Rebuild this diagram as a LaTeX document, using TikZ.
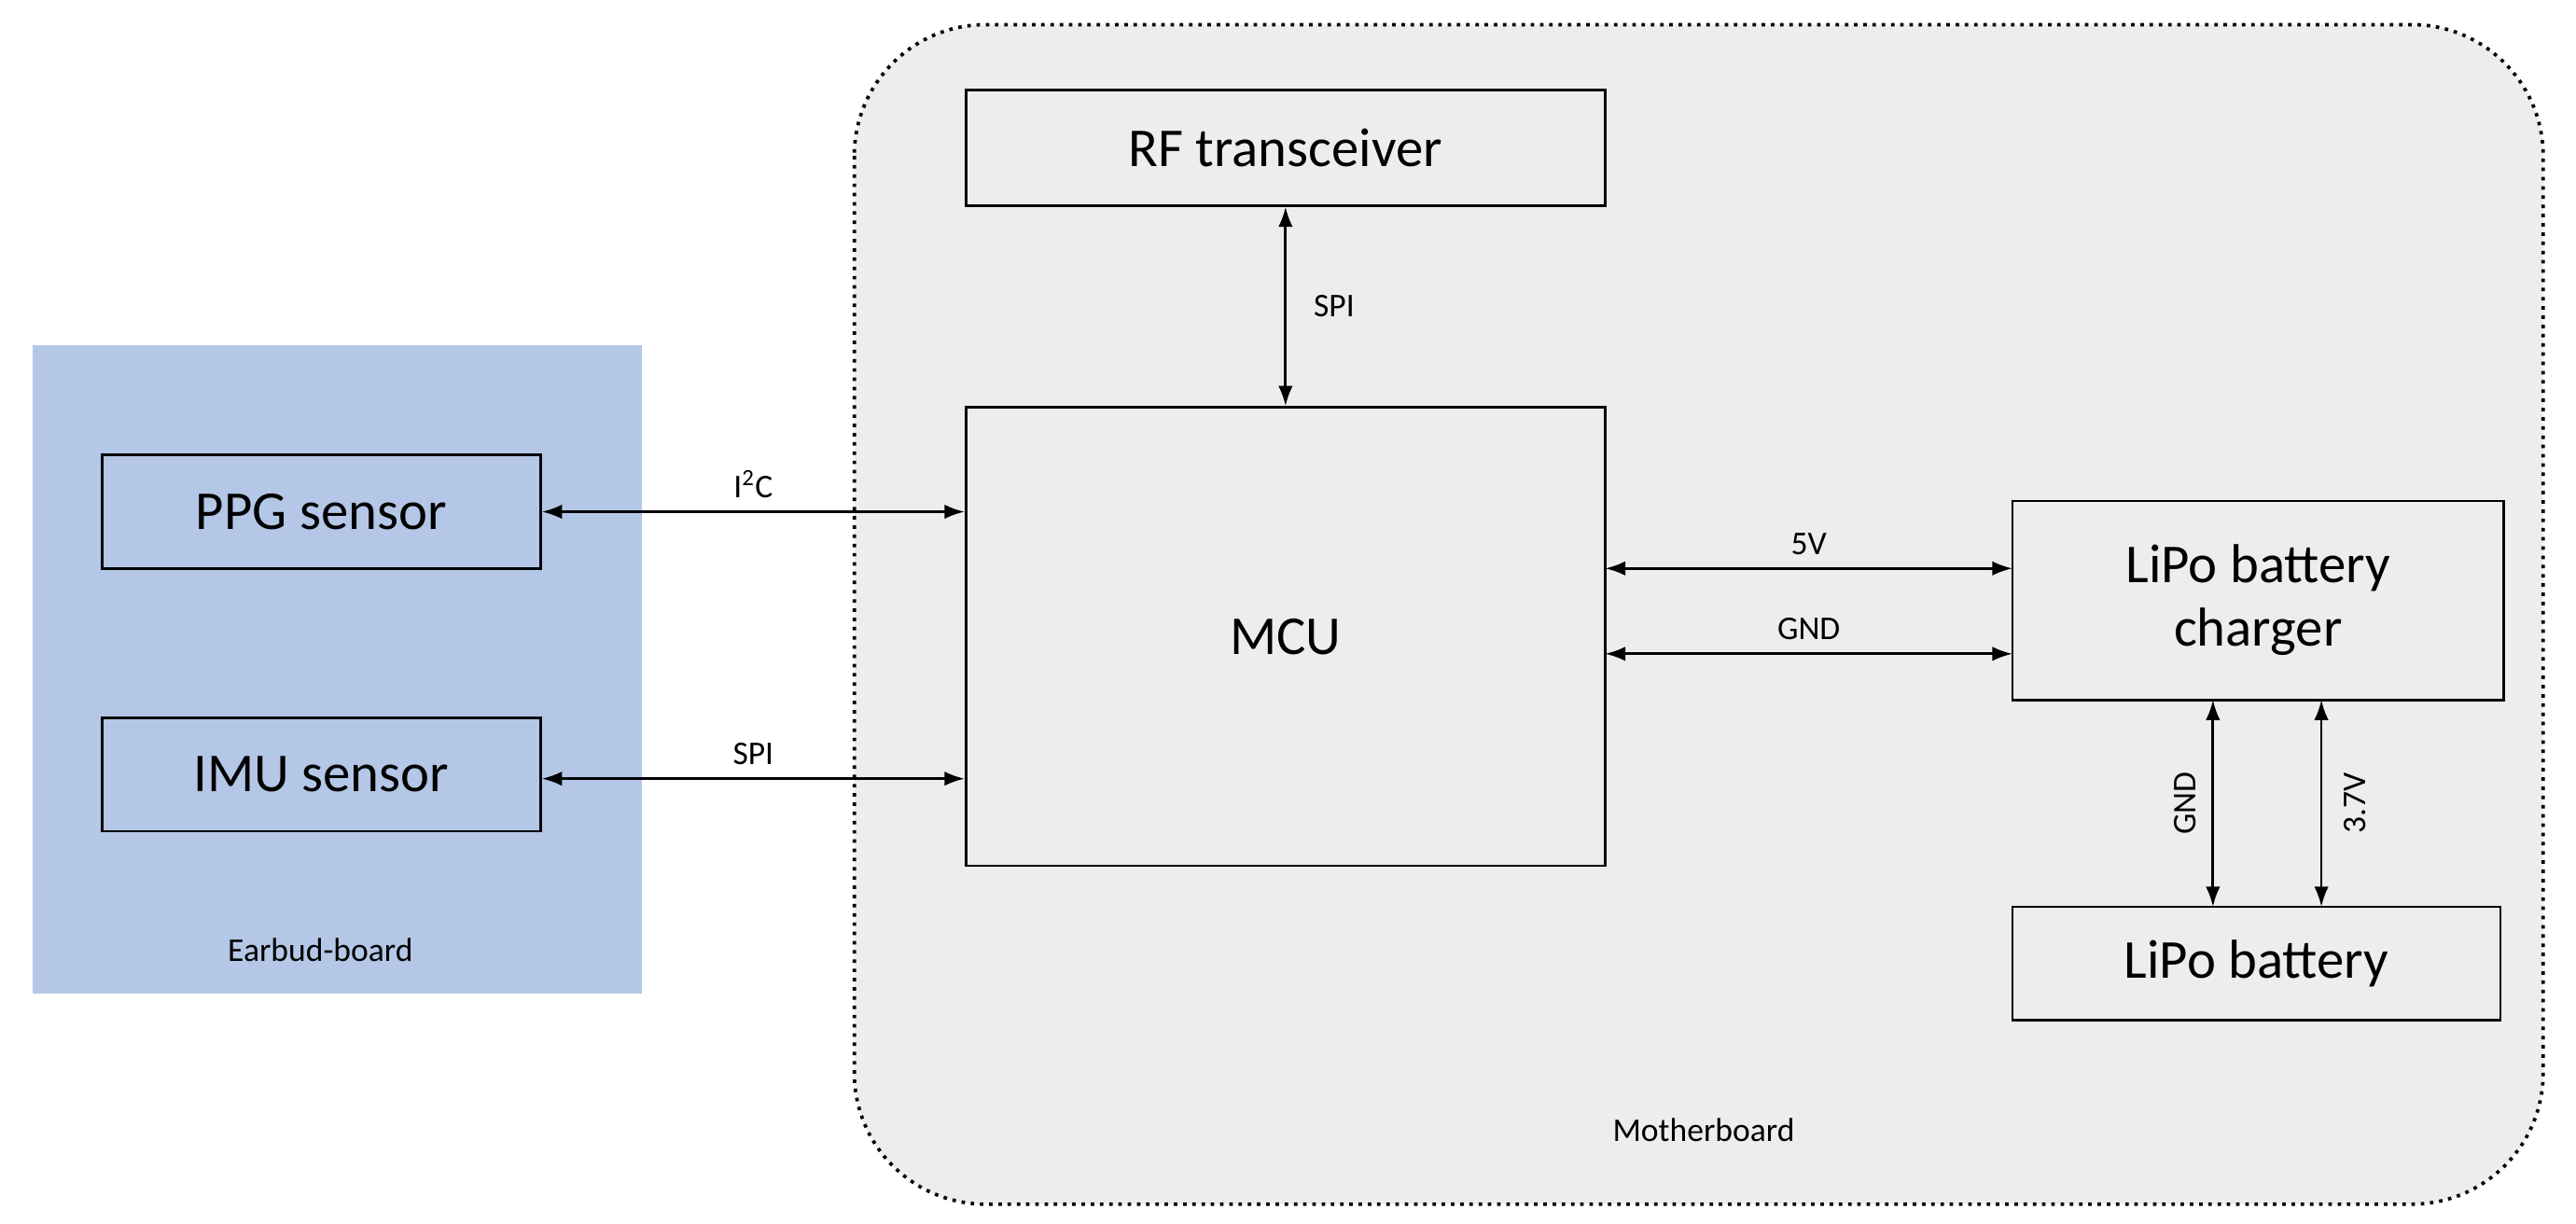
\documentclass[tikz,border=0pt]{standalone}
\usepackage{fontspec}
\setmainfont{Carlito}
\usetikzlibrary{arrows.meta}
\begin{document}
\begin{tikzpicture}[x=0.02cm,y=-0.02cm,
 box/.style={draw=black,line width=0.9pt,fill=none,inner sep=0pt},
 big/.style={font=\fontsize{19}{22}\selectfont},
 lbl/.style={font=\fontsize{11.5}{13}\selectfont},
 arr/.style={{Latex[length=7pt,width=5pt]}-{Latex[length=7pt,width=5pt]},line width=0.9pt}]
\useasboundingbox (0,0) rectangle (1568,745);
\fill[fill={rgb,255:red,180;green,199;blue,231}] (20,210) rectangle (391,605);
\node[lbl] (eb) at (195,578) {Earbud-board};
\draw[dotted,line width=1.2pt,fill={rgb,255:red,237;green,237;blue,237},rounded corners=80pt*0.02/0.0352] (520,15) rectangle (1548,733);
\node[lbl] (mb) at (1037,688) {Motherboard};
\node[box,big,minimum width=389*0.02cm,minimum height=70*0.02cm] (rf) at (782.5,90) {RF transceiver};
\node[box,big,minimum width=389*0.02cm,minimum height=279*0.02cm] (mcu) at (782.5,387.5) {MCU};
\node[box,big,minimum width=267*0.02cm,minimum height=69*0.02cm] (ppg) at (195.5,311.5) {PPG sensor};
\node[box,big,minimum width=267*0.02cm,minimum height=69*0.02cm] (imu) at (195.5,471.5) {IMU sensor};
\node[box,big,minimum width=299*0.02cm,minimum height=121*0.02cm,align=center] (chg) at (1374.5,365.5) {LiPo battery\\charger};
\node[box,big,minimum width=297*0.02cm,minimum height=69*0.02cm] (bat) at (1373.5,586.5) {LiPo battery};
\draw[arr] (rf.south) -- (mcu.north) node[lbl,pos=0.5,right=6pt] {SPI};
\draw[arr] (ppg.east) -- (ppg.east -| mcu.west) node[lbl,pos=0.5,above=1pt] {I\textsuperscript{2}C};
\draw[arr] (imu.east |- 0,474) coordinate (i1) -- (mcu.west |- 0,474) node[lbl,pos=0.5,above=1pt] {SPI};
\coordinate (a1) at (977,346); \coordinate (a2) at (1225,346);
\draw[arr] (a1) -- (a2) node[lbl,pos=0.5,above=1pt] {5V};
\coordinate (g1) at (977,398); \coordinate (g2) at (1225,398);
\draw[arr] (g1) -- (g2) node[lbl,pos=0.5,above=1pt] {GND};
\coordinate (v1) at (1347,426); \coordinate (v2) at (1347,552);
\draw[arr] (v1) -- (v2) node[lbl,pos=0.5,left=2pt,rotate=90,anchor=south] {GND};
\coordinate (w1) at (1413,426); \coordinate (w2) at (1413,552);
\draw[arr] (w1) -- (w2) node[lbl,pos=0.5,rotate=90,anchor=north,yshift=-4pt] {3.7V};
\end{tikzpicture}
\end{document}
